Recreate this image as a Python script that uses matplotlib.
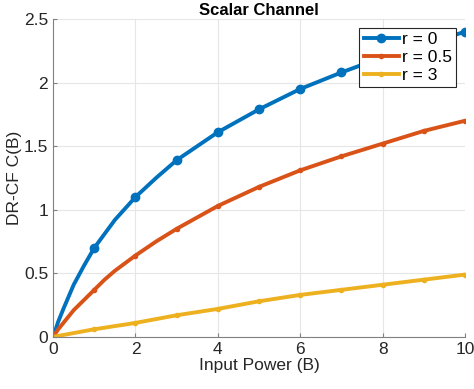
import matplotlib
matplotlib.use("Agg")
import matplotlib.pyplot as plt

plt.rcParams['font.family'] = ['Liberation Sans', 'DejaVu Sans']

# input power samples (integers carry markers)
x = [0, 0.125, 0.25, 0.5, 0.75, 1, 1.25, 1.5, 1.75, 2, 2.5, 3, 4, 5, 6, 7, 8, 9, 10]
r0 = [0, 0.12, 0.22, 0.41, 0.56, 0.70, 0.81, 0.92, 1.01, 1.10, 1.25, 1.39, 1.61, 1.79,
      1.95, 2.08, 2.20, 2.30, 2.40]
r05 = [0, 0.06, 0.11, 0.21, 0.29, 0.37, 0.45, 0.52, 0.58, 0.64, 0.75, 0.85, 1.03, 1.18,
       1.31, 1.42, 1.52, 1.62, 1.70]
r3 = [0, 0.008, 0.015, 0.03, 0.045, 0.06, 0.072, 0.085, 0.097, 0.11, 0.14, 0.17, 0.22,
      0.28, 0.33, 0.37, 0.41, 0.45, 0.49]
mk = [0, 5, 9, 11, 12, 13, 14, 15, 16, 17, 18]

fig = plt.figure(figsize=(4.74, 3.89), dpi=100)
ax = fig.add_axes([0.112, 0.134, 0.869, 0.817])

ax.plot(x, r0, color='#0072BD', lw=2.8, marker='o', ms=6, markevery=mk, label='r = 0')
ax.plot(x, r05, color='#D95319', lw=2.8, marker='o', ms=3, markevery=mk, label='r = 0.5')
ax.plot(x, r3, color='#EDB120', lw=2.8, marker='o', ms=3, markevery=mk, label='r = 3')

ax.set_xlim(0, 10)
ax.set_ylim(0, 2.5)
ax.set_xticks([0, 2, 4, 6, 8, 10])
ax.set_yticks([0, 0.5, 1, 1.5, 2, 2.5])
ax.set_yticklabels(['0', '0.5', '1', '1.5', '2', '2.5'])
ax.grid(True, color='#e6e6e6', lw=0.8)
ax.set_axisbelow(True)
for s in ['top', 'right']:
    ax.spines[s].set_visible(False)
for s in ['left', 'bottom']:
    ax.spines[s].set_color('#808080')
ax.tick_params(direction='in', length=3, colors='#262626', labelsize=12.5, color='#808080')

ax.set_xlabel('Input Power (B)', fontsize=12.5, color='#262626', labelpad=1)
ax.set_ylabel('DR-CF C(B)', fontsize=12.5, color='#262626', labelpad=1)
ax.set_title('Scalar Channel', fontsize=12, fontweight='bold', pad=3)

leg = ax.legend(loc='upper right', fontsize=12.5, fancybox=False, framealpha=1,
                edgecolor='#262626', handlelength=2.0, handletextpad=0.2,
                borderpad=0.25, labelspacing=0.15, borderaxespad=0.5)
leg.get_frame().set_linewidth(0.8)

fig.savefig('out.png', dpi=100)
